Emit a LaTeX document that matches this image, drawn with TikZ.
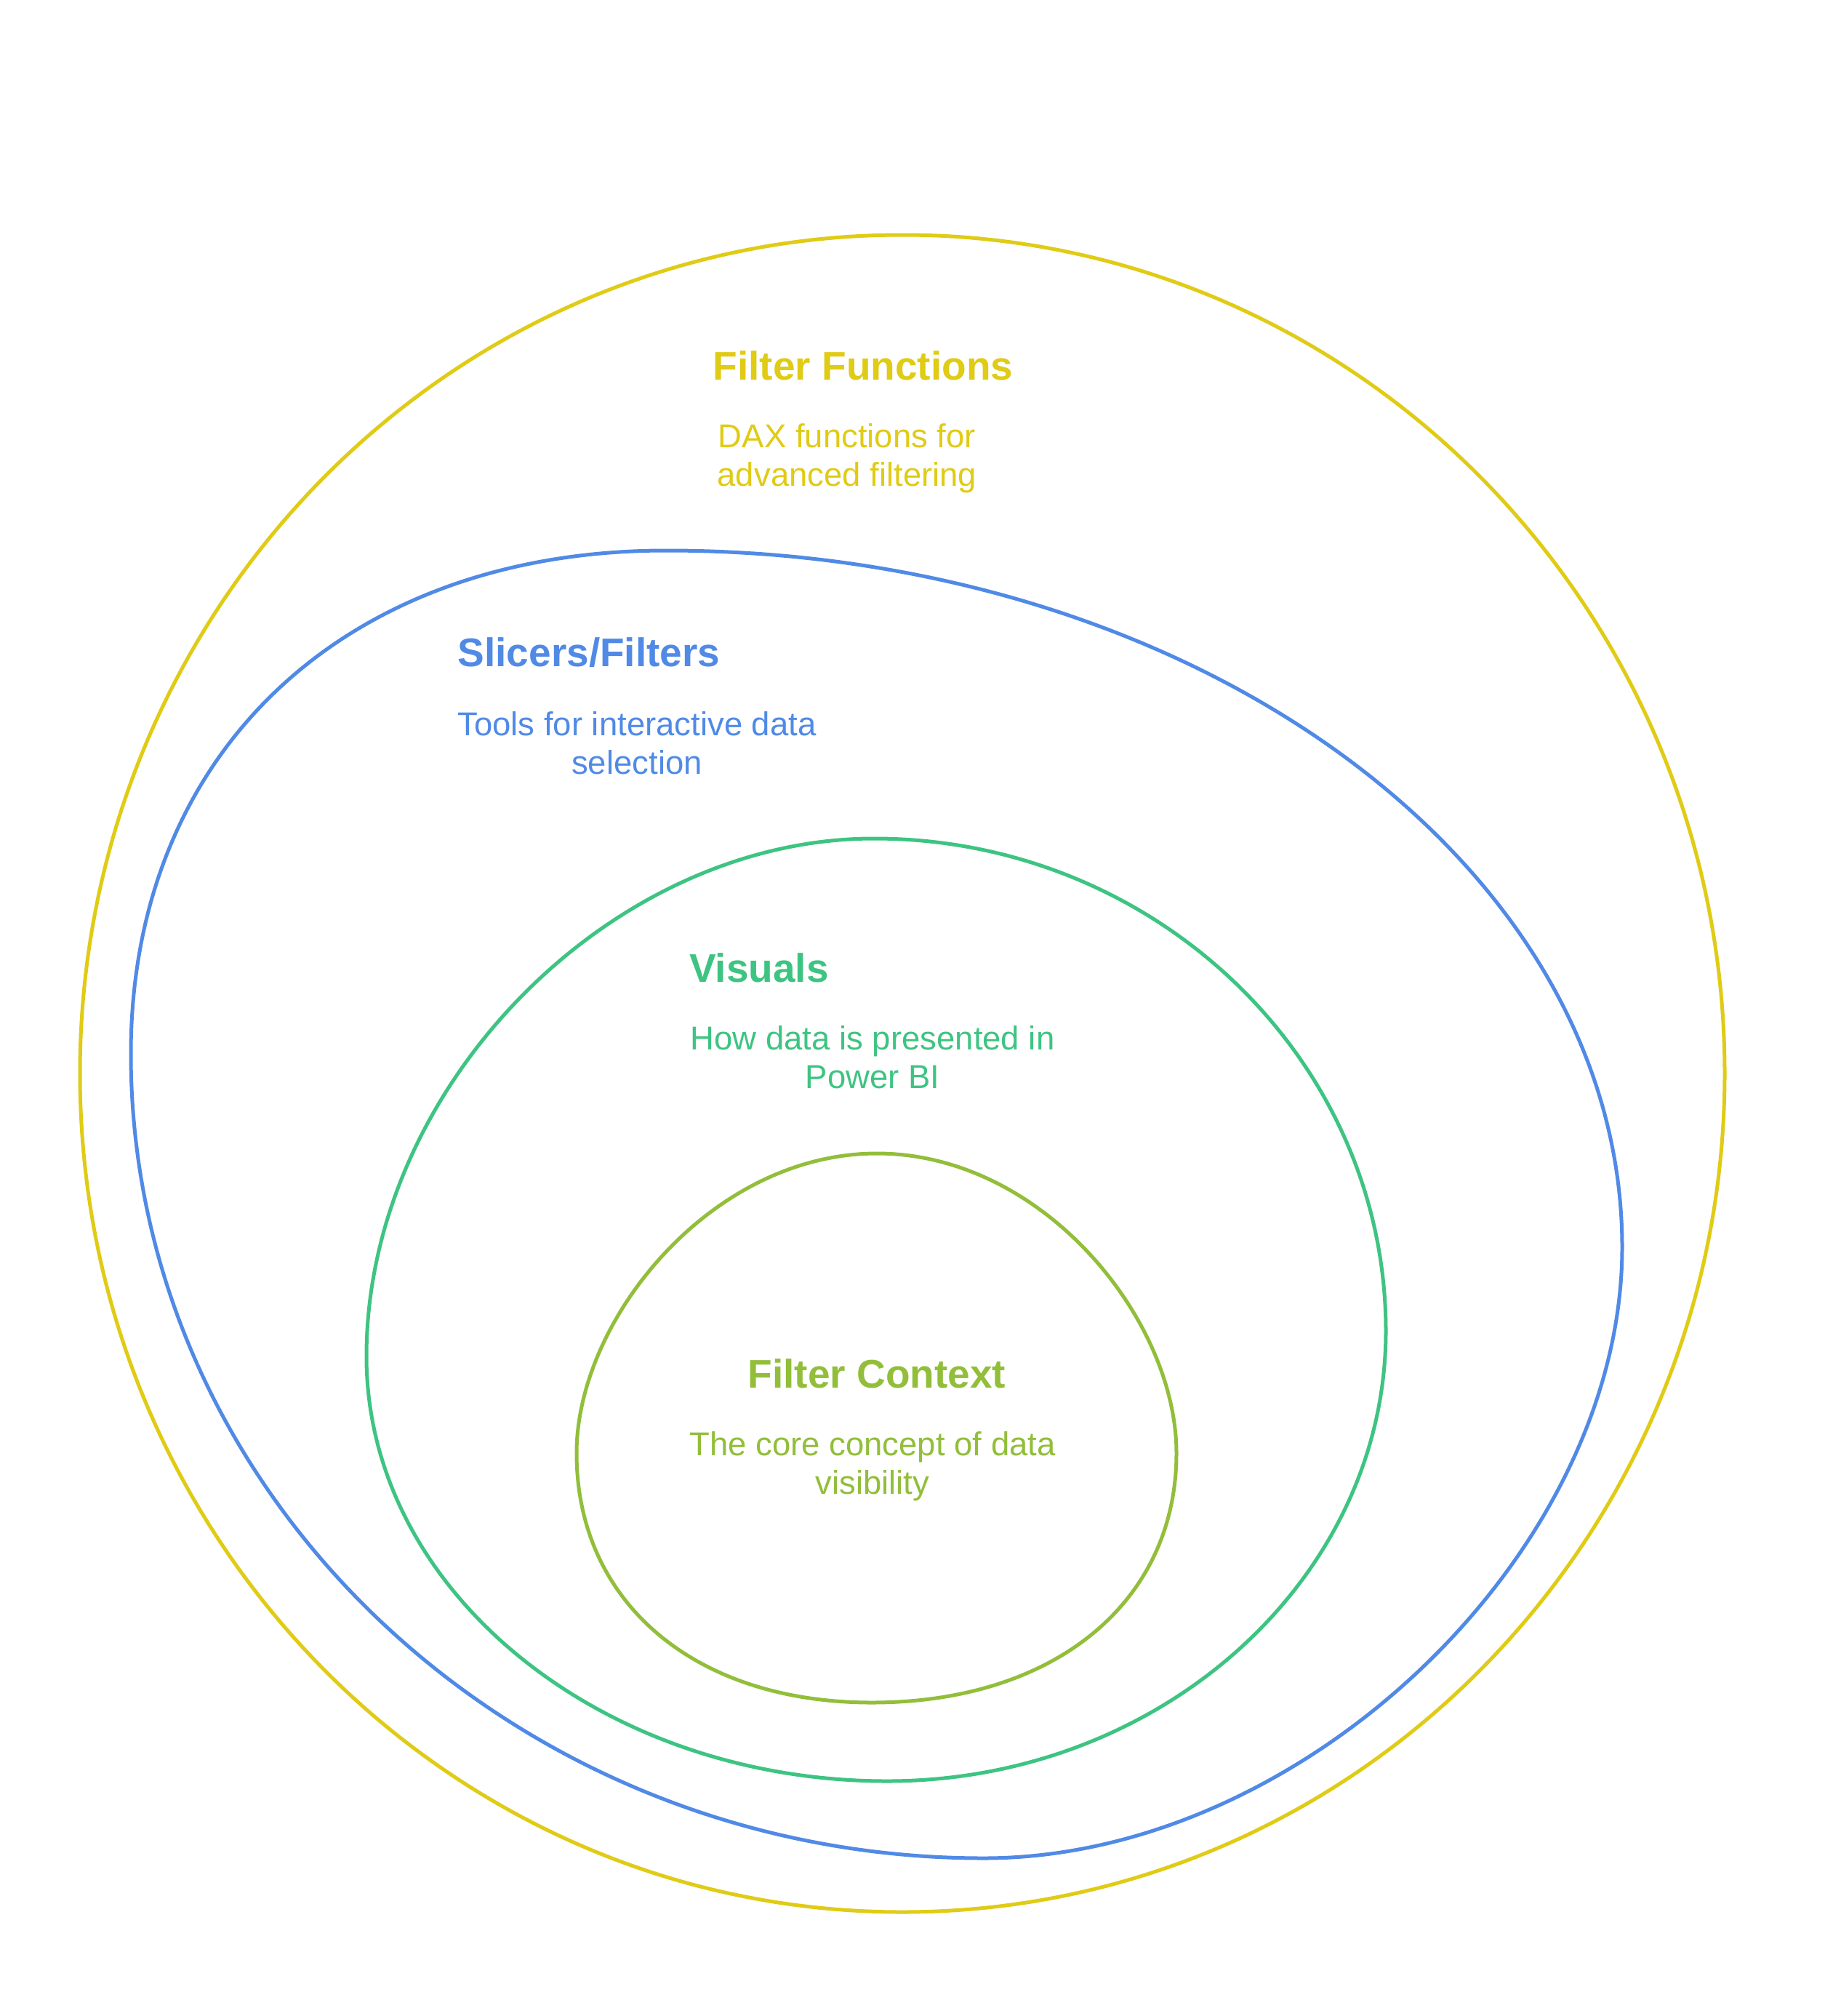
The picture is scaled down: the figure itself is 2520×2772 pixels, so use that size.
\documentclass[tikz,border=0pt]{standalone}
\usepackage{fontspec}
\setmainfont{Liberation Sans}
\definecolor{fnyellow}{HTML}{E0CB15}
\definecolor{slblue}{HTML}{508AE6}
\definecolor{visgreen}{HTML}{3EC482}
\definecolor{ctxolive}{HTML}{92BE3A}

\begin{document}
\begin{tikzpicture}[x=1pt,y=-1pt,
  ring/.style={line width=5pt},
  title/.style={font=\bfseries\fontsize{55}{66}\selectfont,inner sep=0pt,anchor=base},
  desc/.style={font=\fontsize{45.5}{53}\selectfont,align=center,inner sep=0pt,anchor=base}]

\useasboundingbox[fill=white] (0,0) rectangle (2520,2772);

% outer ring
\draw[ring,fnyellow] (1241,1476) ellipse [x radius=1131, y radius=1153];

% slicers blob
\draw[ring,slblue] (916,757) .. controls (1642,757) and (2231,1187) .. (2231,1715)
	.. controls (2231,2135) and (1792,2555) .. (1353,2555)
	.. controls (707,2555) and (180,2057) .. (180,1449)
	.. controls (180,1034) and (475,757) .. (916,757) -- cycle;

% visuals blob
\draw[ring,visgreen] (1202,1153) .. controls (1589,1153) and (1906,1457) .. (1906,1830)
	.. controls (1906,2171) and (1597,2449) .. (1220,2449)
	.. controls (826,2449) and (504,2187) .. (504,1865)
	.. controls (504,1495) and (839,1153) .. (1202,1153) -- cycle;

% context blob
\draw[ring,ctxolive] (1206,1586) .. controls (1434,1586) and (1618,1814) .. (1618,1998)
	.. controls (1618,2203) and (1450,2341) .. (1199,2341)
	.. controls (955,2341) and (793,2203) .. (793,1998)
	.. controls (793,1814) and (979,1586) .. (1206,1586) -- cycle;

% labels, base = last line
\node[title,text=fnyellow]   (fnTitle)  at (1187,522)  {Filter Functions};
\node[desc,text=fnyellow]    (fnDesc)   at (1165,668)  {DAX functions for\\advanced filtering};

\node[title,text=slblue]     (slTitle)  at (810,916)   {Slicers/Filters};
\node[desc,text=slblue]      (slDesc)   at (876,1064)  {Tools for interactive data\\selection};

\node[title,text=visgreen]   (visTitle) at (1044,1350) {Visuals};
\node[desc,text=visgreen]    (visDesc)  at (1200,1496) {How data is presented in\\Power BI};

\node[title,text=ctxolive]   (ctxTitle) at (1206,1908) {Filter Context};
\node[desc,text=ctxolive]    (ctxDesc)  at (1200,2054) {The core concept of data\\visibility};

\end{tikzpicture}
\end{document}
